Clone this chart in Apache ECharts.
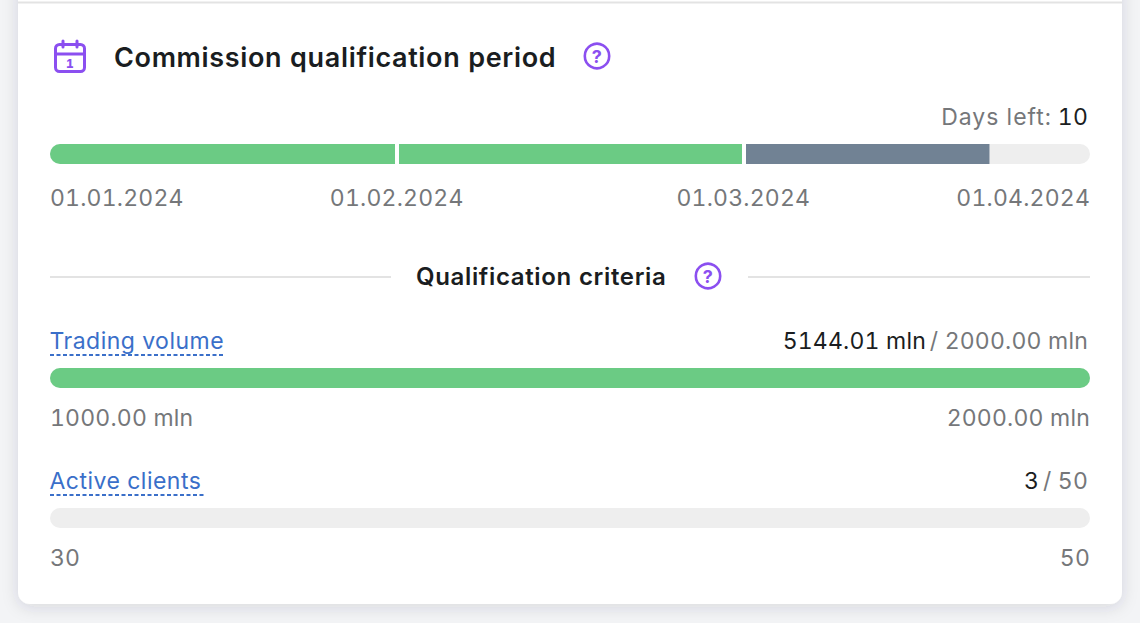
<!DOCTYPE html>
<html>
<head>
<meta charset="utf-8">
<style>
  html, body { margin: 0; padding: 0; background: #f3f4f6; }
  #chart { width: 1140px; height: 623px; }
  /* the svg renderer lets css set tabular digits, tracking is set per text below */
  #chart text { font-variant-numeric: tabular-nums !important; }
</style>
<script src="https://cdn.jsdelivr.net/npm/echarts@6/dist/echarts.min.js"></script>
</head>
<body>
<div id="chart"></div>
<script>
// period bar, in months since the start of the period
const periodTicks = [0, 1, 2, 3];
const periodLabels = ["01.01.2024", "01.02.2024", "01.03.2024", "01.04.2024"];
const monthsDone = [1, 1];
const monthCurrent = [0.71];
const daysLeft = 10;

const volumeTicks = [1000, 2000];
const volumeValue = [5144.01];
const volumeTarget = 2000;

const clientsTicks = [30, 50];
const clientsValue = [3];
const clientsTarget = 50;

const font = "Inter";
const GREEN = "#6bcb84";
const SLATE = "#718294";
const TRACK = "#eeeeee";
const GRAY = "#75777a";
const DARK = "#1a1d21";
const PURPLE = "#8b4ff0";
const LINK = "#3a6fc9";

const fmtMln = v => v.toFixed(2) + " mln";

function grid(top) {
  return { left: 50, width: 1040, top: top, height: 20, containLabel: false };
}

function xAxis(idx, ticks, formatter, margin) {
  return {
    type: "value",
    gridIndex: idx,
    min: ticks[0],
    max: ticks[ticks.length - 1],
    splitLine: { show: false },
    axisLine: { show: false },
    axisTick: { show: false },
    axisLabel: {
      customValues: ticks,
      formatter: formatter,
      color: GRAY,
      fontFamily: font,
      fontSize: 23,
      margin: margin,
      alignMinLabel: "left",
      alignMaxLabel: "right"
    }
  };
}

function yAxis(idx) {
  return { type: "category", gridIndex: idx, data: [""], show: false };
}

function bar(idx, data, color, radius, extra) {
  return Object.assign({
    type: "bar",
    xAxisIndex: idx,
    yAxisIndex: idx,
    barWidth: 20,
    data: data,
    silent: true,
    itemStyle: { color: color, borderRadius: radius }
  }, extra);
}

const trackBg = {
  showBackground: true,
  backgroundStyle: { color: TRACK, borderRadius: 10 }
};

function text(x, y, str, size, color, weight, align) {
  return {
    type: "text", x: x, y: y, z: 3,
    style: {
      text: str, fill: color, fontFamily: font, fontSize: size,
      fontWeight: weight || 400, align: align || "left", verticalAlign: "middle"
    }
  };
}

function hline(x1, x2, y, color, width, dash) {
  return {
    type: "line", z: 3,
    shape: { x1: x1, y1: y, x2: x2, y2: y },
    style: { stroke: color, lineWidth: width, lineDash: dash || null }
  };
}

function helpIcon(cx, cy) {
  return [
    { type: "circle", z: 3, shape: { cx: cx, cy: cy, r: 12.2 }, style: { fill: "none", stroke: PURPLE, lineWidth: 2.6 } },
    text(cx, cy + 0.5, "?", 18, PURPLE, 700, "center")
  ];
}

function calendarIcon() {
  const s = { fill: "none", stroke: PURPLE, lineWidth: 3, lineCap: "round" };
  return [
    { type: "rect", z: 3, shape: { x: 55.5, y: 44.5, width: 29, height: 27, r: 4 }, style: s },
    { type: "line", z: 3, shape: { x1: 56, y1: 54, x2: 84, y2: 54 }, style: s },
    { type: "line", z: 3, shape: { x1: 63, y1: 41, x2: 63, y2: 47 }, style: s },
    { type: "line", z: 3, shape: { x1: 77, y1: 41, x2: 77, y2: 47 }, style: s },
    text(70, 63, "1", 12, PURPLE, 800, "center")
  ];
}

const graphics = [
  {
    type: "rect", z: 0,
    shape: { x: 18, y: -20, width: 1104, height: 624, r: 12 },
    style: { fill: "#ffffff", shadowBlur: 16, shadowColor: "rgba(40,50,70,0.14)", shadowOffsetY: 3 }
  },
  hline(18, 1122, 2.5, "#e3e3e3", 2),
  ...calendarIcon(),
  text(114, 57.5, "Commission qualification period", 27, DARK, 600),
  ...helpIcon(597, 56),
  text(1052, 117, "Days left:", 23, GRAY, 400, "right"),
  text(1088, 117, String(daysLeft), 23, DARK, 400, "right"),
  hline(50, 391, 277, "#e3e3e3", 2),
  hline(748, 1090, 277, "#e3e3e3", 2),
  text(416, 276.5, "Qualification criteria", 24, DARK, 600),
  ...helpIcon(708, 276),
  text(49.5, 341, "Trading volume", 23, LINK),
  hline(50, 223, 355, LINK, 2, [4, 2.5]),
  text(926, 341, fmtMln(volumeValue[0]), 23, DARK, 400, "right"),
  text(1088, 341, "/ " + fmtMln(volumeTarget), 23, GRAY, 400, "right"),
  text(49.5, 481, "Active clients", 23, LINK),
  hline(50, 204, 495, LINK, 2, [4, 2.5]),
  text(1039, 481, String(clientsValue[0]), 23, DARK, 400, "right"),
  text(1088, 481, "/ " + clientsTarget, 23, GRAY, 400, "right")
];

const chart = echarts.init(document.getElementById("chart"), null, { renderer: "svg" });

// echarts has no letter spacing option, so it goes on the svg text nodes
function trackText() {
  document.querySelectorAll("#chart text").forEach(t => {
    const s = t.textContent;
    let px = 0.5;
    if (/^(Commission|Qualification)/.test(s)) px = 0.65;
    else if (s.startsWith("Days")) px = 1;
    else if (/^[\d\/]/.test(s)) px = 0.2;
    t.style.letterSpacing = px + "px";
  });
}
chart.on("finished", trackText);

chart.setOption({
  animation: false,
  backgroundColor: "#f3f4f6",
  graphic: graphics,
  grid: [grid(144), grid(368), grid(508)],
  xAxis: [
    xAxis(0, periodTicks, v => periodLabels[periodTicks.indexOf(v)], 22),
    xAxis(1, volumeTicks, fmtMln, 18),
    xAxis(2, clientsTicks, v => String(v), 18)
  ],
  yAxis: [yAxis(0), yAxis(1), yAxis(2)],
  series: [
    bar(0, [monthsDone[0]], GREEN, [10, 0, 0, 10], Object.assign({ stack: "period" }, trackBg)),
    bar(0, [monthsDone[1]], GREEN, 0, { stack: "period" }),
    bar(0, monthCurrent, SLATE, 0, {
      stack: "period",
      // white gaps at the month boundaries
      markLine: {
        silent: true,
        symbol: "none",
        label: { show: false },
        lineStyle: { color: "#ffffff", width: 4, type: "solid" },
        data: [{ xAxis: periodTicks[1] }, { xAxis: periodTicks[2] }]
      }
    }),
    // the volume is past the target, the bar just fills up
    bar(1, volumeValue.map(v => Math.min(v, volumeTarget)), GREEN, 10, trackBg),
    // 3 clients is under the axis minimum, only the track shows
    bar(2, clientsValue, GREEN, 10, trackBg)
  ]
});
</script>
</body>
</html>
